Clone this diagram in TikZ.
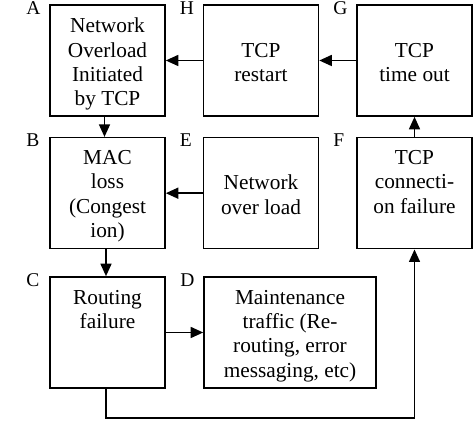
\documentclass[tikz,border=0pt]{standalone}
\usepackage{fontspec}
\setmainfont{Liberation Serif}
\usetikzlibrary{positioning,arrows.meta}
\begin{document}
\begin{tikzpicture}[x=1pt,y=1pt,
	blk/.style={draw,line width=1.6pt,inner sep=0pt,minimum width=115pt,minimum height=111pt},
	txt/.style={inner sep=0pt,align=center,font=\rmfamily\fontsize{21.3}{24.2}\selectfont},
	tag/.style={inner sep=0pt,anchor=base west,font=\rmfamily\fontsize{19.5}{22}\selectfont},
	link/.style={line width=1.5pt,->},
	>={Triangle[length=12.5pt,width=11pt]}]
	\useasboundingbox (0,0) rectangle (474,446);
	% boxes
	\node[blk] (A) at (107.5,385.5) {};
	\node[blk] (H) at (261,385.5) {};
	\node[blk] (G) at (414.5,385.5) {};
	\node[blk] (B) at (107.5,252.8) {};
	\node[blk] (E) at (261,252.8) {};
	\node[blk] (F) at (414.5,252.8) {};
	\node[blk] (C) at (107.5,113.5) {};
	\node[blk,minimum width=172pt] (D) at (290,113.5) {};
	% texts
	\node[txt,below=13.8pt of A.north] (tA) {Network\\Overload\\Initiated\\by TCP};
	\node[txt,below=39pt of H.north] (tH) {TCP\\restart};
	\node[txt,below=39pt of G.north] (tG) {TCP\\time out};
	\node[txt,below=13.5pt of B.north] (tB) {MAC\\loss\\(Congest\\ion)};
	\node[txt,below=38pt of E.north] (tE) {Network\\over load};
	\node[txt,below=13.6pt of F.north] (tF) {TCP\\connecti-\\on failure};
	\node[txt,below=14pt of C.north] (tC) {Routing\\failure};
	\node[txt,below=14pt of D.north] (tD) {Maintenance\\traffic (Re-\\routing, error\\messaging, etc)};
	\foreach \n in {A,...,H} {
	\node[tag] (l\n) at ([xshift=-23pt,yshift=-10pt]\n.north west) {\n};
	}
	% arrows
	\draw[link] (H.west) -- (A.east);
	\draw[link] (G.west) -- (H.east);
	\draw[link] (E.west) -- (B.east);
	\draw[link] (C.east) -- (D.west);
	\draw[link] ([xshift=-3pt]A.south) -- ([xshift=-3pt]B.north);
	\draw[link] ([xshift=-1.5pt]B.south) -- ([xshift=-1.5pt]C.north);
	\draw[link] (F.north) -- (G.south);
	\coordinate (turn) at (106,28);
	\draw[link] ([xshift=-1.5pt]C.south) -- (turn) -| (F.south);
\end{tikzpicture}
\end{document}
